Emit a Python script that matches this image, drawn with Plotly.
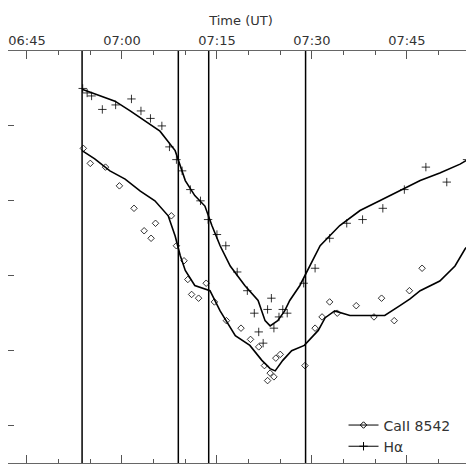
import plotly.graph_objects as go

# time in minutes after 06:00 UT, values in arbitrary units (axis reversed)
ha_t = [53.7, 56.5, 58.9, 61.3, 63.6, 66.0, 68.4, 69.2, 70.0, 71.5, 73.1, 74.2, 75.5, 77.1,
        79.4, 81.5, 82.6, 83.4, 84.6, 85.7, 86.5, 88.1, 89.7, 91.3, 94.4, 97.6, 100.7, 103.9,
        107.1, 110.2, 113.4, 115.6]
ha_v = [0.51, 0.6, 0.67, 0.8, 0.93, 1.07, 1.33, 1.53, 1.73, 1.93, 2.07, 2.33, 2.6, 2.87,
        3.13, 3.33, 3.6, 3.67, 3.6, 3.47, 3.33, 3.13, 2.87, 2.6, 2.33, 2.13, 2.0, 1.87,
        1.73, 1.63, 1.51, 1.4]
ca_t = [53.7, 55.7, 58.1, 60.5, 62.9, 65.2, 67.3, 68.4, 69.2, 70.0, 71.5, 73.9, 75.5, 77.9,
        80.2, 82.1, 83.4, 84.2, 85.4, 86.8, 88.8, 91.0, 92.1, 93.6, 96.0, 99.2, 101.5, 103.9,
        105.5, 107.1, 110.2, 112.6, 114.2, 115.6]
ca_v = [1.33, 1.44, 1.6, 1.71, 1.87, 2.0, 2.2, 2.47, 2.73, 2.93, 3.13, 3.2, 3.47, 3.8,
        3.93, 4.13, 4.24, 4.27, 4.13, 4.0, 3.93, 3.73, 3.56, 3.47, 3.53, 3.53, 3.53, 3.4,
        3.31, 3.2, 3.07, 2.87, 2.64, 2.53]

ha_pts_t = [53.8, 54.5, 55.2, 56.9, 59.0, 61.5, 63.0, 64.5, 66.3, 67.5, 68.6, 69.5, 70.8,
            72.4, 73.6, 75.0, 76.4, 78.2, 79.8, 80.9, 81.6, 82.3, 83.0, 83.6, 84.0, 84.8,
            85.4, 86.1, 88.7, 90.5, 92.8, 95.5, 98.0, 101.2, 104.6, 108.0, 111.3, 114.5]
ha_pts_v = [0.5, 0.56, 0.6, 0.78, 0.72, 0.64, 0.8, 0.9, 1.0, 1.28, 1.45, 1.6, 1.85,
            2.0, 2.25, 2.45, 2.6, 2.95, 3.2, 3.5, 3.75, 3.9, 3.45, 3.3, 3.7, 3.55,
            3.45, 3.5, 3.1, 2.9, 2.5, 2.3, 2.25, 2.1, 1.85, 1.55, 1.75, 1.45]
ca_pts_t = [53.9, 55.0, 57.4, 59.6, 61.9, 63.5, 64.6, 65.3, 67.8, 68.6, 69.8, 70.4,
            71.0, 72.1, 73.3, 74.6, 76.5, 78.8, 80.3, 81.6, 82.5, 83.0, 83.4, 84.0,
            84.3, 85.0, 88.9, 90.5, 91.6, 92.8, 94.0, 97.0, 99.8, 101.0, 103.0, 105.4, 107.4]
ca_pts_v = [1.3, 1.5, 1.55, 1.8, 2.1, 2.4, 2.5, 2.3, 2.2, 2.6, 2.8, 3.05,
            3.25, 3.3, 3.1, 3.35, 3.6, 3.7, 3.85, 3.95, 4.2, 4.4, 4.3, 4.35,
            4.1, 4.05, 4.2, 3.7, 3.55, 3.35, 3.5, 3.4, 3.55, 3.3, 3.6, 3.2, 2.9]

event_t = [53.7, 68.9, 73.7, 89.0]
tick_t = [45, 60, 75, 90, 105]
tick_lbl = ["06:45", "07:00", "07:15", "07:30", "07:45"]

fig = go.Figure()
fig.add_trace(go.Scatter(x=ha_pts_t, y=ha_pts_v, mode="markers", showlegend=False,
                         marker=dict(symbol="cross-thin", size=6, line=dict(color="black", width=0.8))))
fig.add_trace(go.Scatter(x=ca_pts_t, y=ca_pts_v, mode="markers", showlegend=False,
                         marker=dict(symbol="diamond-open", size=5, color="black", line=dict(width=0.8))))
fig.add_trace(go.Scatter(x=ha_t, y=ha_v, mode="lines", showlegend=False,
                         line=dict(color="black", width=1.6)))
fig.add_trace(go.Scatter(x=ca_t, y=ca_v, mode="lines", showlegend=False,
                         line=dict(color="black", width=1.6)))
# legend entries
fig.add_trace(go.Scatter(x=[None], y=[None], mode="lines+markers", name="CaII 8542",
                         line=dict(color="black", width=1),
                         marker=dict(symbol="diamond-open", size=5, color="black")))
fig.add_trace(go.Scatter(x=[None], y=[None], mode="lines+markers", name="Hα",
                         line=dict(color="black", width=1),
                         marker=dict(symbol="cross-thin", size=6, line=dict(color="black", width=1))))

for t in event_t:
    fig.add_vline(x=t, line=dict(color="black", width=1.5))

fig.update_layout(
    width=474, height=474, margin=dict(l=0, r=8, t=43, b=19, autoexpand=False),
    plot_bgcolor="white", paper_bgcolor="white",
    font=dict(family="DejaVu Sans", color="#333", size=13),
    legend=dict(x=0.72, y=0.13, xanchor="left", yanchor="top", bgcolor="rgba(0,0,0,0)",
                font=dict(size=14)),
    xaxis=dict(side="top", range=[42.0, 115.6], tickvals=tick_t, ticktext=tick_lbl,
               automargin=False,
               ticks="inside", ticklen=8, tickcolor="#555", showgrid=False, zeroline=False,
               showline=True, linecolor="#666", mirror="allticks",
               minor=dict(dtick=5, ticks="inside", ticklen=4, tickcolor="#555"),
               title=dict(text="Time (UT)", standoff=4, font=dict(size=13))),
    yaxis=dict(range=[5.5, 0], tickvals=[1, 2, 3, 4, 5], showticklabels=False, automargin=False,
               ticks="inside", ticklen=6, tickcolor="#555", showgrid=False, zeroline=False,
               showline=False),
)
fig.write_html("out.html")
